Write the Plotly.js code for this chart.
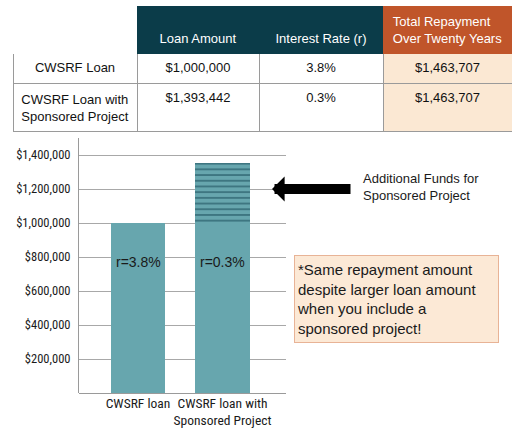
<!DOCTYPE html>
<html>
<head>
<meta charset="utf-8">
<script src="https://cdn.plot.ly/plotly-3.0.1.min.js"></script>
<style>
html,body{margin:0;padding:0;background:#fff;}
#chart{width:512px;height:439px;}
.xtick text, .ytick text { font-stretch: 75%; }
</style>
</head>
<body>
<div id="chart"></div>
<script>
// ---- data ----
const tableHeaders = ['', '&nbsp;<br>Loan Amount', '&nbsp;<br>Interest Rate (r)', 'Total Repayment<br>Over Twenty Years'];
const rowLabels = ['CWSRF Loan', 'CWSRF Loan with<br>Sponsored Project'];
const loanAmounts = ['$1,000,000', '$1,393,442'];
const interestRates = ['3.8%', '0.3%'];
const totalRepayments = ['$1,463,707', '$1,463,707'];

const barCategories = ['CWSRF loan', 'CWSRF loan with<br>Sponsored Project'];
const baseLoan = [1000000, 1000000];
const additionalFunds = [0, 355000];
const rateLabels = ['r=3.8%', 'r=0.3%'];
const rateLabelY = [770000, 770000];
const yTickVals = [200000, 400000, 600000, 800000, 1000000, 1200000, 1400000];
const yTickText = ['$200,000', '$400,000', '$600,000', '$800,000', '$1,000,000', '$1,200,000', '$1,400,000'];
const arrowTipY = 1200000;
const noteText = '*Same repayment amount<br>despite larger loan amount<br>when you include a<br>sponsored project!';
const arrowText = 'Additional Funds for<br>Sponsored Project';

// ---- styles ----
const teal = '#67a6ae';
const dark = '#0b3c49';
const orange = '#c0552a';
const cream = '#fbe8d3';
const narrow = 'Roboto, "Liberation Sans", sans-serif';
const sans = '"Liberation Sans", Arial, sans-serif';

const traces = [
  {
    type: 'table',
    domain: {x: [13/512, 1], y: [0.66, (439-6)/439]},
    columnwidth: [124, 122, 124, 129],
    header: {
      values: tableHeaders,
      height: 35,
      align: 'center',
      fill: {color: ['#ffffff', dark, dark, orange]},
      line: {color: ['#ffffff', dark, dark, orange], width: 1},
      font: {family: sans, size: 13, color: '#ffffff'}
    },
    cells: {
      values: [rowLabels, loanAmounts, interestRates, totalRepayments],
      height: 30,
      align: 'center',
      fill: {color: ['#ffffff', '#ffffff', '#ffffff', cream]},
      line: {color: '#9a9a9a', width: 1},
      font: {family: sans, size: 13, color: '#111111'}
    }
  },
  {
    type: 'bar', x: barCategories, y: baseLoan,
    marker: {color: teal, line: {width: 0}},
    hoverinfo: 'none'
  },
  {
    type: 'bar', x: barCategories, y: additionalFunds,
    marker: {color: teal, line: {width: 0},
      pattern: {shape: '-', fgcolor: dark, bgcolor: teal, size: 5.7, solidity: 0.3, fillmode: 'overlay'}},
    hoverinfo: 'none'
  }
];

const annotations = rateLabels.map((t, i) => ({
  x: barCategories[i], y: rateLabelY[i], xref: 'x', yref: 'y',
  text: t, showarrow: false,
  font: {family: sans, size: 14, color: '#1a1a1a'}
}));
annotations.push({
  x: 272/512, y: arrowTipY, xref: 'paper', yref: 'y',
  text: '', showarrow: true, ax: 80, ay: 0, axref: 'pixel', ayref: 'pixel',
  arrowhead: 1, arrowwidth: 10, arrowsize: 0.42, arrowcolor: '#000000'
});
annotations.push({
  x: 361/512, y: (439-187)/439, xref: 'paper', yref: 'paper',
  xanchor: 'left', yanchor: 'middle', align: 'left',
  text: arrowText, showarrow: false,
  font: {family: sans, size: 13, color: '#1a1a1a'}
});
annotations.push({
  x: 294/512, y: (439-255)/439, xref: 'paper', yref: 'paper',
  xanchor: 'left', yanchor: 'top', align: 'left', valign: 'middle',
  width: 199, height: 82,
  text: noteText, showarrow: false,
  bgcolor: '#fce9d6', bordercolor: '#e8b396', borderwidth: 1, borderpad: 2,
  font: {family: sans, size: 15, color: '#1a1a1a'}
});

const layout = {
  width: 512, height: 439,
  margin: {l: 0, r: 0, t: 0, b: 0},
  paper_bgcolor: '#ffffff', plot_bgcolor: '#ffffff',
  showlegend: false,
  barmode: 'stack',
  bargap: 0.36,
  xaxis: {
    domain: [79/512, 286/512],
    range: [-0.698, 1.751],
    type: 'category',
    showgrid: false, zeroline: false,
    showline: false,
    ticks: '', tickangle: 0,
    tickfont: {family: narrow, size: 13.5, color: '#1a1a1a'},
    fixedrange: true
  },
  yaxis: {
    domain: [46/439, (439-138)/439],
    range: [0, 1500000],
    tickvals: yTickVals, ticktext: yTickText,
    showgrid: true, gridcolor: '#a8a8a8', gridwidth: 1,
    zeroline: true, zerolinecolor: '#9a9a9a', zerolinewidth: 1,
    showline: true, linecolor: '#9a9a9a', linewidth: 1,
    ticks: '', ticklabelstandoff: 5,
    tickfont: {family: narrow, size: 12.5, color: '#1a1a1a'},
    fixedrange: true
  },
  annotations: annotations
};

Plotly.newPlot('chart', traces, layout, {staticPlot: true, displayModeBar: false});
</script>
</body>
</html>
